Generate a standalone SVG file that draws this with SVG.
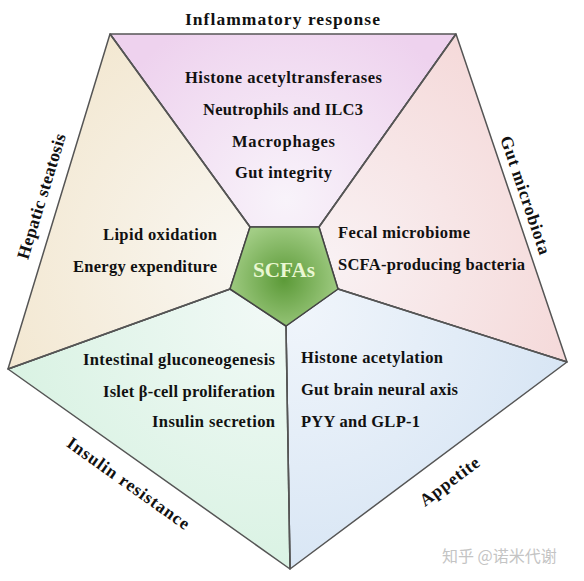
<svg xmlns="http://www.w3.org/2000/svg" width="584" height="581" viewBox="0 0 584 581">
  <style>
    .t { font-family: "Liberation Serif", "Times New Roman", serif; font-weight: bold; font-size: 16.5px; fill: #111; }
    .lab { font-family: "Liberation Serif", "Times New Roman", serif; font-weight: bold; font-size: 17.5px; fill: #111; }
    .reg { stroke: #555; stroke-width: 1.5; stroke-linejoin: round; }
    .spoke { stroke: #555; stroke-width: 1.5; fill: none; }
    .wm { font-family: "Noto Sans CJK SC", "Noto Sans", sans-serif; font-size: 16px; fill: #c4c4c4; }
  </style>
  <defs>
    <radialGradient id="gTop" gradientUnits="userSpaceOnUse" cx="286" cy="200" r="200">
      <stop offset="0" stop-color="#f8f3fa"/>
      <stop offset="1" stop-color="#eed2ee"/>
    </radialGradient>
    <radialGradient id="gRight" gradientUnits="userSpaceOnUse" cx="330" cy="260" r="250">
      <stop offset="0" stop-color="#f9f1f3"/>
      <stop offset="1" stop-color="#f5dada"/>
    </radialGradient>
    <radialGradient id="gBR" gradientUnits="userSpaceOnUse" cx="300" cy="310" r="280">
      <stop offset="0" stop-color="#f0f5fb"/>
      <stop offset="1" stop-color="#d7e5f4"/>
    </radialGradient>
    <radialGradient id="gBL" gradientUnits="userSpaceOnUse" cx="270" cy="310" r="280">
      <stop offset="0" stop-color="#f1f9f6"/>
      <stop offset="1" stop-color="#d8f2e2"/>
    </radialGradient>
    <radialGradient id="gLeft" gradientUnits="userSpaceOnUse" cx="250" cy="260" r="260">
      <stop offset="0" stop-color="#f9f7f2"/>
      <stop offset="1" stop-color="#f3e8d2"/>
    </radialGradient>
    <radialGradient id="gC" gradientUnits="userSpaceOnUse" cx="284" cy="280" r="58">
      <stop offset="0" stop-color="#5c9a38"/>
      <stop offset="1" stop-color="#a2cd85"/>
    </radialGradient>
  </defs>

  <g id="region-inflammatory">
    <polygon class="reg" points="110,34 456,34 319,227 250,227" fill="url(#gTop)"/>
  </g>
  <g id="region-gut-microbiota">
    <polygon class="reg" points="456,34 567,362 338,289 319,227" fill="url(#gRight)"/>
  </g>
  <g id="region-appetite">
    <polygon class="reg" points="567,362 290,569 286,326 338,289" fill="url(#gBR)"/>
  </g>
  <g id="region-insulin">
    <polygon class="reg" points="290,569 8,369 230,289 286,326" fill="url(#gBL)"/>
  </g>
  <g id="region-hepatic">
    <polygon class="reg" points="8,369 110,34 250,227 230,289" fill="url(#gLeft)"/>
  </g>

  <g id="connectors">
    <line class="spoke" x1="250" y1="227" x2="110" y2="34"/>
    <line class="spoke" x1="319" y1="227" x2="456" y2="34"/>
    <line class="spoke" x1="338" y1="289" x2="567" y2="362"/>
    <line class="spoke" x1="286" y1="326" x2="290" y2="569"/>
    <line class="spoke" x1="230" y1="289" x2="8" y2="369"/>
  </g>

  <g id="node-scfas">
    <polygon points="250,227 319,227 338,289 286,326 230,289" fill="url(#gC)" stroke="#444" stroke-width="1.5" stroke-linejoin="round"/>
    <text x="284" y="277" text-anchor="middle" textLength="62" lengthAdjust="spacingAndGlyphs" style="font-family:'Liberation Serif','Times New Roman',serif;font-weight:bold;font-size:21px;fill:#eaf7d2">SCFAs</text>
  </g>

  <g id="text-inflammatory">
    <text class="lab" x="185" y="25" textLength="195" lengthAdjust="spacing">Inflammatory response</text>
    <text class="t" x="185" y="83" textLength="197" lengthAdjust="spacing">Histone acetyltransferases</text>
    <text class="t" x="203" y="115" textLength="160" lengthAdjust="spacing">Neutrophils and ILC3</text>
    <text class="t" x="232" y="147" textLength="103" lengthAdjust="spacing">Macrophages</text>
    <text class="t" x="235" y="178" textLength="97" lengthAdjust="spacing">Gut integrity</text>
  </g>

  <g id="text-gut-microbiota">
    <text class="lab" x="520" y="197" text-anchor="middle" textLength="124" lengthAdjust="spacing" transform="rotate(71.3 520 197)">Gut microbiota</text>
    <text class="t" x="338" y="238" textLength="132" lengthAdjust="spacing">Fecal microbiome</text>
    <text class="t" x="338" y="270" textLength="187" lengthAdjust="spacing">SCFA-producing bacteria</text>
  </g>

  <g id="text-appetite">
    <text class="lab" x="453" y="486" text-anchor="middle" textLength="70" lengthAdjust="spacing" transform="rotate(-36.8 453 486)">Appetite</text>
    <text class="t" x="301" y="363" textLength="142" lengthAdjust="spacing">Histone acetylation</text>
    <text class="t" x="301" y="395" textLength="157" lengthAdjust="spacing">Gut brain neural axis</text>
    <text class="t" x="301" y="427" textLength="119" lengthAdjust="spacing">PYY and GLP-1</text>
  </g>

  <g id="text-insulin">
    <text class="lab" x="125" y="488" text-anchor="middle" textLength="146" lengthAdjust="spacing" transform="rotate(35.3 125 488)">Insulin resistance</text>
    <text class="t" x="83" y="365" textLength="192" lengthAdjust="spacing">Intestinal gluconeogenesis</text>
    <text class="t" x="103" y="397" textLength="172" lengthAdjust="spacing">Islet β-cell proliferation</text>
    <text class="t" x="152" y="427" textLength="123" lengthAdjust="spacing">Insulin secretion</text>
  </g>

  <g id="text-hepatic">
    <text class="lab" x="47" y="198" text-anchor="middle" textLength="130" lengthAdjust="spacing" transform="rotate(-73 47 198)">Hepatic steatosis</text>
    <text class="t" x="103" y="240" textLength="114" lengthAdjust="spacing">Lipid oxidation</text>
    <text class="t" x="73" y="272" textLength="144" lengthAdjust="spacing">Energy expenditure</text>
  </g>

  <text class="wm" x="442" y="562">知乎 @诺米代谢</text>
</svg>
